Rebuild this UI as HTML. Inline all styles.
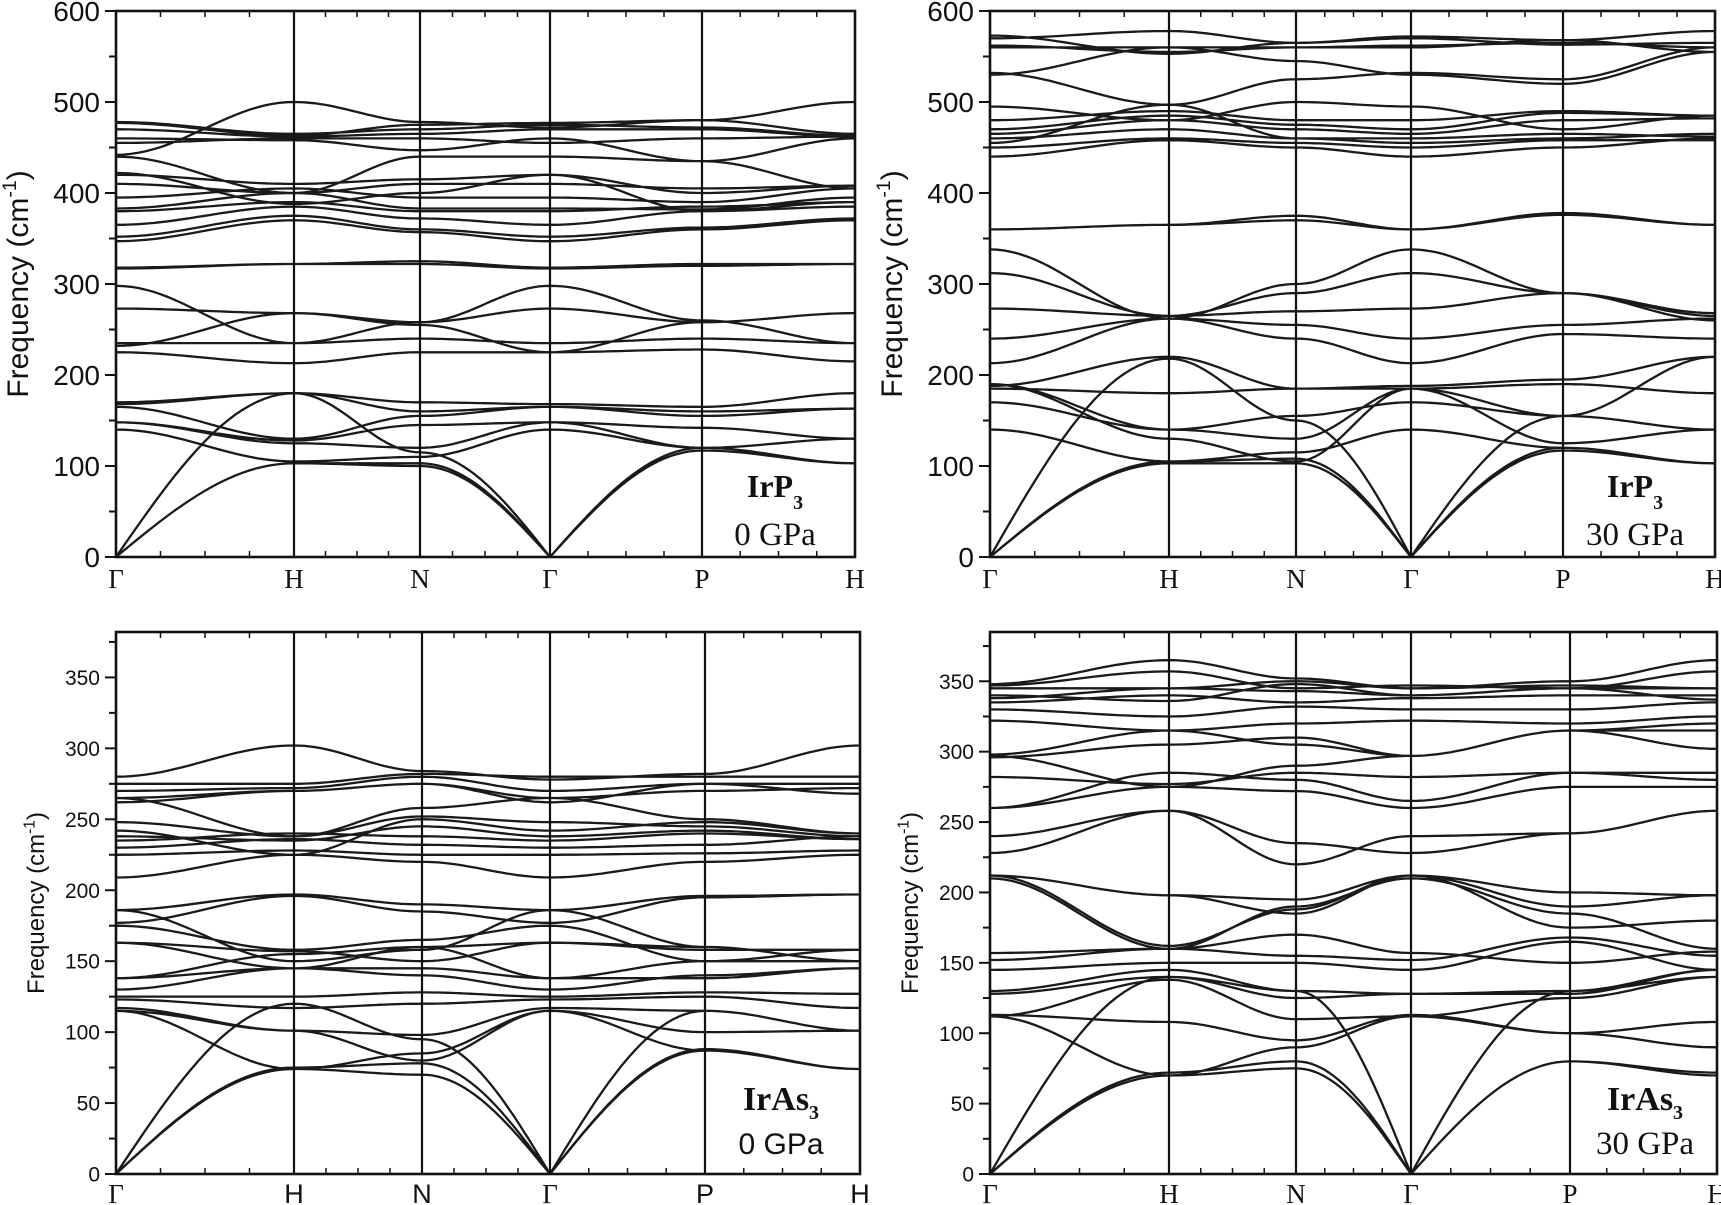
<!DOCTYPE html>
<html><head><meta charset="utf-8"><style>
html,body{margin:0;padding:0;background:#fff}
svg{display:block}
text{fill:#111}
.s{font-family:"Liberation Sans",sans-serif}
.r{font-family:"Liberation Serif",serif}
</style></head><body>
<svg id="c" width="1721" height="1205" xmlns="http://www.w3.org/2000/svg"></svg>
<script>
const svg=document.getElementById('c');
let out='';
const panels=[
{x:[116,294,420,550,702,855],y0:557,ymax:600,top:11,maj:100,min:50,fs:28,tfs:30,lab:'IrP',sub:'3',gp:'0 GPa',ax:775,ay:497,gy:545,sdy:12,lfs:32,gfs:33,xly:588,
b:[[0,103,100,0,117,103],[0,103,103,0,117,103],[0,180,115,0,120,130],
[140,105,110,140,120,103],[148,128,145,148,142,130],[165,130,155,165,155,163],[168,180,170,168,165,180],[170,180,160,165,160,163],[148,125,120,148,120,130],
[225,213,225,225,228,215],[235,235,240,235,240,235],[273,268,258,273,258,268],[298,235,258,298,260,235],[232,268,255,225,258,268],
[317,322,322,317,320,322],[318,322,325,318,322,322],
[347,370,357,347,360,370],[352,375,360,352,362,372],[365,385,372,365,380,385],[380,390,380,380,385,390],[383,400,383,383,382,395],[395,405,395,395,390,405],[410,400,410,410,405,408],[420,410,415,420,400,408],[440,400,440,440,435,405],[422,388,400,420,380,390],
[442,500,478,472,480,500],[455,460,460,455,460,462],[470,462,465,470,470,462],[477,463,475,477,480,465],[478,465,470,475,472,463],[460,458,447,460,435,460]]},
{x:[990,1169,1296,1411,1563,1715],y0:557,ymax:600,top:11,maj:100,min:50,fs:28,tfs:30,lab:'IrP',sub:'3',gp:'30 GPa',ax:1635,ay:497,gy:545,sdy:12,lfs:32,gfs:33,xly:588,
b:[[0,103,103,0,117,103],[0,105,108,0,120,103],[0,218,150,0,155,220],
[140,105,115,140,120,103],[170,140,155,170,155,140],[185,180,185,185,190,180],[188,220,185,188,195,220],[190,140,130,185,155,140],[190,130,105,185,125,140],
[213,262,240,213,245,240],[240,262,255,240,255,262],[273,265,270,273,290,265],[312,265,290,312,290,260],[338,262,300,338,290,268],
[360,365,375,360,378,365],[360,365,370,360,376,365],
[440,458,450,440,450,460],[450,460,455,450,458,458],[460,470,460,460,465,462],[465,480,470,465,480,482],[470,485,475,470,488,485],[480,490,480,480,490,485],[495,480,500,495,470,485],[455,497,460,455,460,465],
[530,560,545,530,520,555],[532,497,525,532,525,560],[560,560,560,560,568,555],[562,555,560,562,565,560],[570,578,565,572,568,578],[573,553,565,570,563,565]]},
{x:[116,294,422,550,705,860],y0:1174,ymax:382,top:632,maj:50,min:25,fs:21,tfs:24,lab:'IrAs',sub:'3',gp:'0 GPa',ax:781,ay:1110,gy:1154,sdy:9,lfs:34,gfs:30,xly:1203,sans:true,
b:[[0,74,70,0,87,74],[0,75,78,0,88,74],[0,120,95,0,115,101],
[115,74,85,115,87,74],[115,101,80,115,100,101],[117,101,98,117,115,101],[123,117,120,123,125,117],[125,125,128,125,128,127],[130,145,140,130,140,145],[138,145,145,138,138,145],[138,155,160,138,150,150],[163,157,150,163,158,158],[163,145,160,163,160,150],[175,158,165,175,150,158],[177,196,185,177,195,197],[186,197,190,186,196,197],[186,150,158,186,160,150],
[209,225,220,209,220,225],[225,228,225,225,226,228],[230,236,232,230,232,238],[235,240,238,235,240,236],[238,235,245,238,242,236],[242,225,250,242,248,240],[248,238,252,248,245,238],[265,238,258,265,250,240],[265,270,275,265,270,272],[270,272,280,270,275,275],[275,275,282,280,280,280],[280,302,284,278,282,302],[262,270,275,262,275,268]]},
{x:[990,1169,1296,1411,1570,1717],y0:1174,ymax:385,top:632,maj:50,min:25,fs:21,tfs:24,lab:'IrAs',sub:'3',gp:'30 GPa',ax:1645,ay:1110,gy:1154,sdy:9,lfs:34,gfs:33,xly:1203,
b:[[0,70,75,0,80,70],[0,72,80,0,80,72],[0,140,130,0,130,140],
[112,70,90,112,100,108],[113,108,95,113,100,90],[112,138,110,112,125,140],[128,140,125,128,128,145],[130,145,130,128,130,145],[145,150,150,145,165,145],[152,160,155,152,168,155],[157,160,170,157,150,158],[210,160,190,210,185,160],[212,198,195,212,190,198],[212,162,188,212,175,180],[212,198,185,212,200,198],[228,258,235,228,242,258],[240,258,220,240,242,258],[260,275,272,260,275,275],[260,285,280,265,285,285],[282,277,285,282,285,280],[297,275,290,297,315,302],[296,305,310,297,315,320],[298,315,305,297,315,315],[322,315,320,322,320,325],[330,325,332,330,330,335],[335,340,335,338,340,340],[338,345,343,340,345,345],[340,336,348,340,345,337],[345,345,350,345,347,345],[348,365,352,345,350,365],[347,357,345,347,345,357]]}
];
const names=['Γ','H','N','Γ','P','H'];
panels.forEach(p=>{
  const L=p.x[0],R=p.x[5],T=p.top,B=p.y0;
  const sy=(B-T)/p.ymax, Y=v=>B-v*sy;
  let d='';
  p.b.forEach(b=>{
    for(let i=0;i<5;i++){
      const a=b[i],c=b[i+1],x0=p.x[i],x1=p.x[i+1];
      const n=24;
      for(let k=0;k<=n;k++){
        const t=k/n;let v;
        if(a===0) v=c*Math.sin(t*Math.PI/2);
        else if(c===0) v=a*Math.cos(t*Math.PI/2);
        else v=a+(c-a)*(1-Math.cos(Math.PI*t))/2;
        d+=(k===0?'M':'L')+(x0+(x1-x0)*t).toFixed(1)+' '+Y(v).toFixed(1);
      }
    }
  });
  out+=`<path d="${d}" fill="none" stroke="#1a1a1a" stroke-width="2.3"/>`;
  for(let i=1;i<5;i++) out+=`<line x1="${p.x[i]}" y1="${T}" x2="${p.x[i]}" y2="${B}" stroke="#111" stroke-width="2.2"/>`;
  out+=`<rect x="${L}" y="${T}" width="${R-L}" height="${B-T}" fill="none" stroke="#111" stroke-width="2.6"/>`;
  for(let v=0;v<=p.ymax;v+=p.min){
    const major=Math.abs(v/p.maj-Math.round(v/p.maj))<1e-6;
    out+=`<line x1="${L-(major?11:7)}" y1="${Y(v)}" x2="${L}" y2="${Y(v)}" stroke="#111" stroke-width="2"/>`;
    if(major) out+=`<text class="s" x="${L-16}" y="${Y(v)+p.fs*0.36}" font-size="${p.fs}" text-anchor="end">${v}</text>`;
  }
  for(let i=0;i<5;i++){for(let k=1;k<4;k++){const xx=p.x[i]+(p.x[i+1]-p.x[i])*k/4;
    out+=`<line x1="${xx}" y1="${T}" x2="${xx}" y2="${T+6}" stroke="#111" stroke-width="1.5"/><line x1="${xx}" y1="${B}" x2="${xx}" y2="${B-6}" stroke="#111" stroke-width="1.5"/>`;}}
  names.forEach((n,i)=>{out+=`<text class="${p.sans&&n!=='Γ'?'s':'r'}" x="${p.x[i]}" y="${p.xly}" font-size="27" text-anchor="middle">${n}</text>`;});
  const cy=(T+B)/2, cx=L-(p.fs>25?88:72);
  out+=`<text class="s" transform="translate(${cx},${cy}) rotate(-90)" font-size="${p.tfs}" text-anchor="middle">Frequency (cm<tspan dy="-${p.tfs*0.4}" font-size="${p.tfs*0.65}">-1</tspan><tspan dy="${p.tfs*0.4}">)</tspan></text>`;
  out+=`<text class="r" x="${p.ax}" y="${p.ay}" font-size="${p.lfs}" font-weight="bold" text-anchor="middle">${p.lab}<tspan dy="${p.sdy}" font-size="20">${p.sub}</tspan></text>`;
  out+=`<text class="${p.sans?'s':'r'}" x="${p.ax}" y="${p.gy}" font-size="${p.gfs}" text-anchor="middle">${p.gp}</text>`;
});
svg.innerHTML=out;
</script>
</body></html>
